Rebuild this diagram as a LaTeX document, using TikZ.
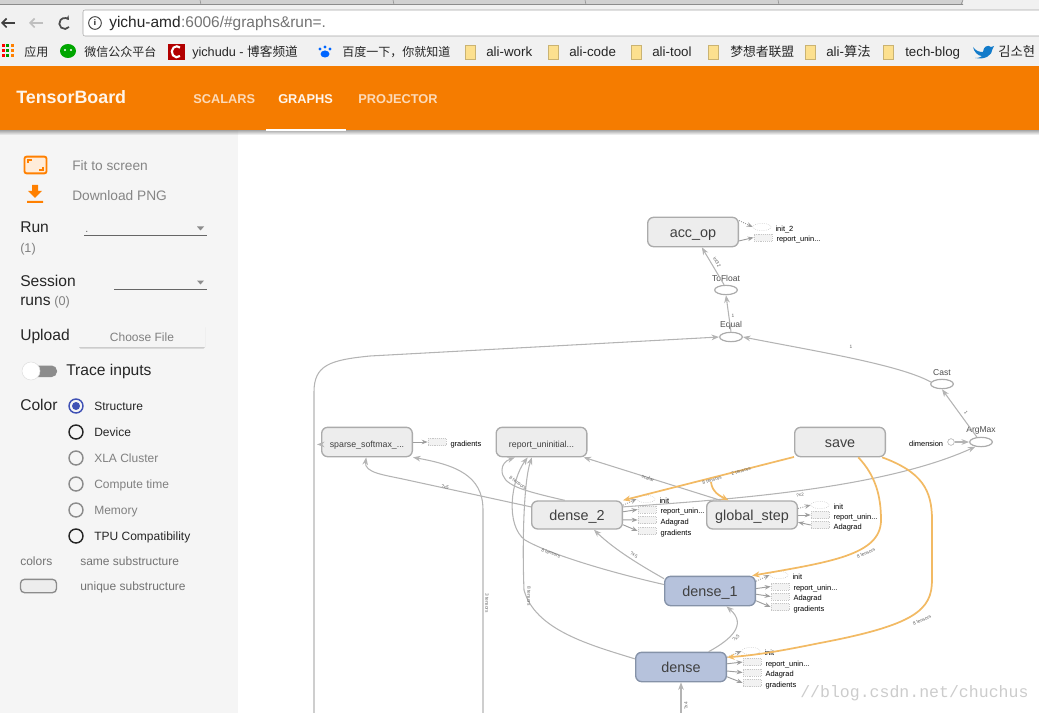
\documentclass[tikz,border=0pt]{standalone}
\usepackage{fontspec}
\setmainfont{Liberation Sans}
\newfontfamily\cjkfont{Noto Sans CJK SC}
\newfontfamily\krfont{Noto Sans CJK KR}
\newfontfamily\markfont{Liberation Mono}
\usetikzlibrary{positioning, arrows.meta, shapes.geometric, backgrounds}
\definecolor{tbOrange}{HTML}{F57C00}
\definecolor{panelGray}{HTML}{F5F5F5}
\definecolor{barGray}{HTML}{F1F1F1}
\definecolor{opFill}{HTML}{EDEDED}
\definecolor{opLine}{HTML}{ABABAB}
\definecolor{blueFill}{HTML}{B6C2DC}
\definecolor{blueLine}{HTML}{8592A8}
\definecolor{edgeGray}{HTML}{B4B4B4}
\definecolor{saveOrange}{HTML}{F2BA64}
\definecolor{folderYellow}{HTML}{FCE08F}
\definecolor{radioBlue}{HTML}{3F51B5}
\begin{document}
\begin{tikzpicture}[
    x=0.75pt, y=-0.75pt,
    txt/.style={inner sep=0pt, anchor=west, text height=1.6ex, text depth=0.45ex},
    barlabel/.style={txt, font=\fontsize{10}{11}\selectfont, text=black!85},
    cjklabel/.style={txt, font=\fontsize{9}{11}\selectfont\cjkfont, text=black!85},
    navlabel/.style={txt, font=\fontsize{9.6}{11}\selectfont\bfseries, text=white!72!tbOrange},
    sidelabel/.style={txt, font=\fontsize{11.7}{13}\selectfont, text=black!85},
    hintlabel/.style={txt, font=\fontsize{10.3}{13}\selectfont, text=black!48},
    radiolabel/.style={txt, font=\fontsize{9}{11}\selectfont, text=black!85},
    radiooff/.style={txt, font=\fontsize{9}{11}\selectfont, text=black!50},
    legendlabel/.style={txt, font=\fontsize{9}{11}\selectfont, text=black!55},
    radio/.style={circle, draw=black!85, line width=1.1pt, minimum size=10.5pt, inner sep=0pt},
    radiodim/.style={radio, draw=black!45},
    folder/.style={draw=folderYellow!80!black, fill=folderYellow, minimum width=7.5pt, minimum height=10.5pt, inner sep=0pt},
    opbox/.style={draw=opLine, fill=opFill, line width=1pt, rounded corners=4.5pt, minimum width=68pt, minimum height=22pt, inner sep=0pt, text=black!75, text height=1.5ex, text depth=0pt, font=\fontsize{10.8}{12}\selectfont},
    bluebox/.style={opbox, draw=blueLine, fill=blueFill},
    smallbox/.style={opbox, font=\fontsize{6.6}{8}\selectfont},
    opell/.style={ellipse, draw=opLine, fill=white, line width=0.9pt, minimum width=17pt, minimum height=7pt, inner sep=0pt},
    oplabel/.style={font=\fontsize{6.4}{8}\selectfont, text=black!70, inner sep=0pt, label distance=2pt},
    auxbox/.style={draw=black!22, densely dotted, fill=black!5, minimum width=13.5pt, minimum height=5.5pt, inner sep=0pt},
    auxell/.style={ellipse, draw=black!25, densely dotted, fill=white, minimum width=13.5pt, minimum height=5.5pt, inner sep=0pt},
    auxlabel/.style={font=\fontsize{5.6}{7}\selectfont, text=black, inner sep=0pt, label distance=3pt, text height=1.5ex, text depth=0.3ex},
    edgelabel/.style={font=\fontsize{3.6}{4}\selectfont, text=black!60, inner sep=0pt},
    edge/.style={draw=edgeGray, line width=0.8pt, -{Stealth[length=2mm, width=1.5mm]}},
    auxedge/.style={edge, draw=black!38, line width=0.7pt, -{Stealth[length=1.6mm, width=1.2mm]}},
    auxdash/.style={auxedge, densely dotted},
    saveedge/.style={draw=saveOrange, line width=1.3pt, -{Stealth[length=2mm, width=1.6mm]}}
]
\useasboundingbox (0,0) rectangle (1039,713);

% Browser window
\fill[barGray] (0,0) rectangle (1039,66);
\fill[black!18] (0,0) rectangle (963,4);
\draw[black!45] (0,4.5) -- (963,4.5) (200,0) -- (201,4.5) (393,0) -- (394,4.5) (585,0) -- (586,4.5) (778,0) -- (779,4.5) (963,0) -- (961,4.5);
\draw[black!35, fill=white, rounded corners=1.5pt] (83,10) rectangle (1045,36);
\draw[black!30] (0,66) -- (1039,66);

% Toolbar buttons
\draw[black!75, line width=1.2pt, -{Straight Barb[length=1.2mm, width=2.4mm]}] (15,23) -- (1,23);
\draw[black!25, line width=1.2pt, -{Straight Barb[length=1.2mm, width=2.4mm]}] (43,23) -- (29,23);
\draw[black!70, line width=1.3pt, -{Stealth[length=1.1mm, width=1.4mm]}] (69,27) arc (40:320:5.5);
\node (url_info) [circle, draw=black!75, line width=0.7pt, minimum size=9.5pt, inner sep=0pt, font=\fontsize{6}{7}\selectfont\bfseries] at (95,23) {i};
\node (url_host) [txt, font=\fontsize{11.6}{12}\selectfont, text=black!85] at (109,23) {yichu-amd};
\node (url_rest) [txt, right=0pt of url_host, font=\fontsize{11.6}{12}\selectfont, text=black!55] {:6006/\#graphs\&run=.};

% Bookmarks
\foreach \col/\gx in {red/3,green!60!black/7.5,orange/12} {
  \foreach \gy in {46,51,56}
    \fill[\col] (\gx-1.5,\gy-1.5) rectangle (\gx+1.5,\gy+1.5);
}
\node (bm_apps) [cjklabel] at (24,52) {应用};
\fill[green!65!black] (68,51) ellipse (8 and 7);
\fill[white] (65,50) circle (1.1) (71,50) circle (1.1);
\node (bm_wechat) [cjklabel] at (84,52) {微信公众平台};
\fill[red!70!black] (168,44) rectangle (185,60);
\draw[white, line width=1.6pt] (180,56) arc (50:310:5 and 5.5);
\node (bm_blog1) [barlabel, font=\fontsize{9.5}{11}\selectfont] at (192,52) {yichudu - \cjkfont 博客频道};
\fill[blue!60!cyan] (325,54) ellipse (4.5 and 3.5) (320,49) circle (1.6) (325,47) circle (1.7) (330,49) circle (1.6);
\node (bm_baidu) [cjklabel] at (342,52) {百度一下，你就知道};
\node (fd_work) [folder] at (470,52) {};
\node (bm_work) [barlabel] at (486,52) {ali-work};
\node (fd_code) [folder] at (553,52) {};
\node (bm_code) [barlabel] at (569,52) {ali-code};
\node (fd_tool) [folder] at (636,52) {};
\node (bm_tool) [barlabel] at (652,52) {ali-tool};
\node (fd_dream) [folder] at (713,52) {};
\node (bm_dream) [cjklabel, font=\fontsize{9.6}{11}\selectfont\cjkfont] at (730,52) {梦想者联盟};
\node (fd_algo) [folder] at (810,52) {};
\node (bm_algo) [barlabel] at (826,52) {ali-\cjkfont 算法};
\node (fd_tech) [folder] at (888,52) {};
\node (bm_tech) [barlabel] at (905,52) {tech-blog};
\fill[cyan!60!blue] (973,47) .. controls (976,51) and (979,52) .. (983,52) .. controls (983,47) and (988,44) .. (991,47) -- (994,46) -- (992.5,49) .. controls (992,55) and (986,60) .. (975,58) .. controls (979,58) and (981,57) .. (982,56) .. controls (978,56) and (974,52) .. cycle;
\node (bm_kim) [txt, font=\fontsize{10}{11}\selectfont\krfont, text=black!85] at (998,52) {김소현};

% Orange header
\shade[top color=black!35, bottom color=white] (0,130) rectangle (1039,135);
\fill[tbOrange] (0,66) rectangle (1039,130);
\node (tb_title) [txt, font=\fontsize{13.4}{16}\selectfont\bfseries, text=white!92!tbOrange] at (16,99) {TensorBoard};
\node (nav_scalars) [navlabel] at (193,99) {SCALARS};
\node (nav_graphs) [navlabel, text=white!92!tbOrange] at (278,99) {GRAPHS};
\node (nav_projector) [navlabel] at (358,99) {PROJECTOR};
\fill[white] (266,129) rectangle (346,131);

% Side panel
\fill[panelGray] (0,131) rectangle (238,713);
\shade[top color=black!30, bottom color=panelGray] (0,131) rectangle (238,135);
\node (fit_icon) [draw=orange, fill=white!85!orange, line width=1.4pt, rounded corners=1.5pt, minimum width=16.5pt, minimum height=12.5pt, inner sep=0pt] at (35.5,165) {};
\draw[orange, line width=0.9pt] (28,163) -- (28,160) -- (32,160) (43,167) -- (43,170) -- (39,170);
\node (fit_label) [hintlabel] at (72,166) {Fit to screen};
\fill[orange] (32,185) rectangle (38,191) (28,191) -- (42,191) -- (35,198) -- cycle (27,201) rectangle (43,203);
\node (png_label) [hintlabel] at (72,196) {Download PNG};
\node (run_label) [sidelabel] at (20,228) {Run};
\node (run_count) [txt, font=\fontsize{9.5}{11}\selectfont, text=black!50] at (20,248) {(1)};
\node (run_value) [txt, font=\fontsize{8}{9}\selectfont, text=black!60] at (85,228) {.};
\draw[black!60] (84,235.5) -- (207,235.5) (114,289.5) -- (207,289.5);
\fill[black!45] (197,226.5) -- (204,226.5) -- (200.5,230.5) -- cycle (197,280.5) -- (204,280.5) -- (200.5,284.5) -- cycle;
\node (session_label) [sidelabel] at (20,282) {Session};
\node (runs_label) [sidelabel] at (20,301) {runs};
\node (runs_count) [txt, right=2.5pt of runs_label, font=\fontsize{9.5}{11}\selectfont, text=black!50] {(0)};
\node (upload_label) [sidelabel] at (20,336) {Upload};
\fill[black!20, rounded corners=1pt] (79,326) rectangle (205,348.5);
\node (upload_btn) [fill=panelGray, minimum width=94.5pt, minimum height=18pt, inner sep=0pt, font=\fontsize{9}{11}\selectfont, text=black!50, text height=1.5ex, text depth=0.3ex] at (142,335) {};
\node (upload_text) [font=\fontsize{9}{11}\selectfont, text=black!50, inner sep=0pt] at (142,337) {Choose File};
\fill[black!45, rounded corners=4pt] (29,365.5) rectangle (57,377);
\node (trace_knob) [circle, fill=white, draw=black!12, minimum size=13.5pt, inner sep=0pt] at (31,371) {};
\node (trace_label) [sidelabel] at (66,371) {Trace inputs};
\node (color_label) [sidelabel] at (20,406) {Color};
\node (rd_structure) [radio, draw=radioBlue] at (76,406) {};
\fill[radioBlue] (rd_structure) circle (4);
\node (rl_structure) [radiolabel] at (94,406) {Structure};
\node (rd_device) [radio] at (76,432) {};
\node (rl_device) [radiolabel] at (94,432) {Device};
\node (rd_xla) [radiodim] at (76,458) {};
\node (rl_xla) [radiooff] at (94,458) {XLA Cluster};
\node (rd_time) [radiodim] at (76,484) {};
\node (rl_time) [radiooff] at (94,484) {Compute time};
\node (rd_memory) [radiodim] at (76,510) {};
\node (rl_memory) [radiooff] at (94,510) {Memory};
\node (rd_tpu) [radio] at (76,536) {};
\node (rl_tpu) [radiolabel] at (94,536) {TPU Compatibility};
\node (legend_colors) [legendlabel] at (20,561) {colors};
\node (legend_same) [legendlabel] at (80,561) {same substructure};
\node (legend_swatch) [draw=black!45, fill=black!7, line width=1pt, rounded corners=3pt, minimum width=27pt, minimum height=10pt, inner sep=0pt] at (38.5,586) {};
\node (legend_unique) [legendlabel] at (80,586) {unique substructure};

% Graph nodes
\node (acc_op) [opbox] at (693,232) {acc\_op};
\node (sparse) [smallbox] at (367,442) {sparse\_softmax\_...};
\node (report) [smallbox] at (541.5,442) {report\_uninitial...};
\node (save) [opbox] at (840,442) {save};
\node (dense_2) [opbox, minimum height=21pt] at (577,515) {dense\_2};
\node (global_step) [opbox, minimum height=21pt] at (752,515) {global\_step};
\node (dense_1) [bluebox] at (710,591) {dense\_1};
\node (dense) [bluebox] at (681,667) {dense};

\node (to_float) [opell, label={[oplabel]above:ToFloat}] at (726,290) {};
\node (equal) [opell, label={[oplabel]above:Equal}] at (731,337) {};
\node (cast) [opell, label={[oplabel]above:Cast}] at (942,384) {};
\node (arg_max) [opell, label={[oplabel]above:ArgMax}] at (981,442) {};
\node (dim_in) [circle, draw=opLine, fill=white, minimum size=5pt, inner sep=0pt, label={[auxlabel]left:dimension}] at (951,442) {};

% Auxiliary boxes
\node (acc_init) [auxell, label={[auxlabel]right:init\_2}] at (762,227) {};
\node (acc_rep) [auxbox, label={[auxlabel]right:report\_unin...}] at (763,237.5) {};
\node (sp_grad) [auxbox, label={[auxlabel]right:gradients}] at (437,442) {};
\node (d2_init) [auxell, label={[auxlabel]right:init}] at (646,499) {};
\node (d2_rep) [auxbox, label={[auxlabel]right:report\_unin...}] at (647,509.5) {};
\node (d2_ada) [auxbox, label={[auxlabel]right:Adagrad}] at (647,520) {};
\node (d2_grad) [auxbox, label={[auxlabel]right:gradients}] at (647,531) {};
\node (gs_init) [auxell, label={[auxlabel]right:init}] at (820,505) {};
\node (gs_rep) [auxbox, label={[auxlabel]right:report\_unin...}] at (820,515) {};
\node (gs_ada) [auxbox, label={[auxlabel]right:Adagrad}] at (820,525) {};
\node (d1_init) [auxell, label={[auxlabel]right:init}] at (779,575) {};
\node (d1_rep) [auxbox, label={[auxlabel]right:report\_unin...}] at (780,586.5) {};
\node (d1_ada) [auxbox, label={[auxlabel]right:Adagrad}] at (780,596.5) {};
\node (d1_grad) [auxbox, label={[auxlabel]right:gradients}] at (780,607) {};
\node (d0_init) [auxell, label={[auxlabel]right:init}] at (751,651) {};
\node (d0_rep) [auxbox, label={[auxlabel]right:report\_unin...}] at (752,662) {};
\node (d0_ada) [auxbox, label={[auxlabel]right:Adagrad}] at (752,672.5) {};
\node (d0_grad) [auxbox, label={[auxlabel]right:gradients}] at (752,683) {};

% Free ends at the lower edge
\coordinate (left_end) at (314,713);
\coordinate (sparse_end) at (483,713);
\coordinate (dense_end) at (681,713);

% Edges
\begin{scope}[on background layer]
\draw[edge] (dense_2.10) .. controls (720,500) and (880,490) .. (arg_max.220);
\end{scope}
\draw[edge] (to_float.110) -- (acc_op.-60);
\draw[edge] (equal.north) -- (to_float.south);
\draw[edge] (cast.170) .. controls (900,365) and (820,352) .. (equal.east);
\draw[edge] (arg_max.130) -- (cast.south);
\draw[edge] (dim_in.east) -- (arg_max.west);
\draw[edge] (left_end) -- (314,392) .. controls (314,365) and (330,360) .. (370,356) -- (equal.west);
\draw[edge] (dense_2.170) -- (405,479.5) .. controls (385,475) and (364,473) .. (sparse.-93);
\draw[edge] (sparse_end) -- (483,510) .. controls (483,475) and (455,465) .. (sparse.south east);
\draw[edge] (dense_2.130) .. controls (520,490) and (502,485) .. (502,470) .. controls (502,465) and (505,461) .. (report.-150);
\draw[edge] (dense_1.172) .. controls (600,570) and (545,552) .. (525,540) .. controls (505,525) and (511,480) .. (report.-132);
\draw[edge] (dense.170) .. controls (590,645) and (535,630) .. (524,590) .. controls (522,540) and (524,480) .. (report.-122);
\draw[edge] (dense_1.165) .. controls (640,565) and (615,550) .. (dense_2.-41);
\draw[edge] (global_step.155) -- (report.-20);
\draw[edge] (dense.29) .. controls (730,640) and (748,625) .. (dense_1.-43);
\draw[edge] (dense_end) -- (dense.south);
\draw[edge] (sparse.183) -- ++(-4,0);

\draw[auxdash] (acc_op.14) -- (acc_init.west);
\draw[auxedge] (acc_op.-11) -- (acc_rep.west);
\draw[auxedge] (sparse.east) -- (sp_grad.west);
\draw[auxdash] (dense_2.12) -- (d2_init.west);
\draw[auxedge] (dense_2.4) -- (d2_rep.west);
\draw[auxedge] (dense_2.-6) -- (d2_ada.west);
\draw[auxedge] (dense_2.-12) -- (d2_grad.west);
\draw[auxdash] (global_step.8) -- (gs_init.west);
\draw[auxedge] (global_step.east) -- (gs_rep.west);
\draw[auxedge] (gs_ada.west) -- (global_step.-9);
\draw[auxdash] (dense_1.12) -- (d1_init.west);
\draw[auxedge] (dense_1.3) -- (d1_rep.west);
\draw[auxedge] (dense_1.-4) -- (d1_ada.west);
\draw[auxedge] (dense_1.-12) -- (d1_grad.west);
\draw[auxdash] (dense.12) -- (d0_init.west);
\draw[auxedge] (dense.4) -- (d0_rep.west);
\draw[auxedge] (dense.-5) -- (d0_ada.west);
\draw[auxedge] (dense.-12) -- (d0_grad.west);

\draw[saveedge] (save.-162) -- (dense_2.north east);
\draw[saveedge] (711,482) .. controls (712,492) and (720,496) .. (global_step.148);
\draw[saveedge] (save.-40) .. controls (875,475) and (881,495) .. (881,520) .. controls (881,555) and (830,562) .. (dense_1.20);
\draw[saveedge] (save.-20) .. controls (922,472) and (932,490) .. (932,520) -- (932,580) .. controls (932,610) and (915,625) .. (820,643) .. controls (790,649) and (760,655) .. (dense.12);

% Edge labels
\node (lb_tofloat) [edgelabel, rotate=-60] at (717,262) {int32};
\node (lb_equal) [edgelabel] at (733,316) {1};
\node (lb_cast) [edgelabel] at (851,347) {1};
\node (lb_argmax) [edgelabel, rotate=-55] at (966,413) {1};
\node (lb_argmax2) [edgelabel, rotate=5] at (800,495) {?x2};
\node (lb_sparse) [edgelabel, rotate=-20] at (445,487) {?x5};
\node (lb_left) [edgelabel, rotate=-90] at (487,603) {3 tensors};
\node (lb_rep1) [edgelabel, rotate=-35] at (518,483) {8 tensors};
\node (lb_rep2) [edgelabel, rotate=-20] at (551,553) {8 tensors};
\node (lb_rep3) [edgelabel, rotate=-90] at (529,596) {8 tensors};
\node (lb_d1d2) [edgelabel, rotate=-25] at (634,555) {?x5};
\node (lb_global) [edgelabel, rotate=-20] at (648,478) {scalar};
\node (lb_dd1) [edgelabel, rotate=40] at (736,638) {?x5};
\node (lb_dense) [edgelabel, rotate=90] at (686,706) {?x4};
\node (lb_save1) [edgelabel, rotate=15] at (712,480) {8 tensors};
\node (lb_save2) [edgelabel, rotate=15] at (741,471) {2 tensors};
\node (lb_save3) [edgelabel, rotate=25] at (866,553) {8 tensors};
\node (lb_save4) [edgelabel, rotate=25] at (922,620) {8 tensors};

% Watermark
\node (watermark) [txt, font=\fontsize{12.4}{14}\selectfont\markfont, text=black!20] at (800,693) {//blog.csdn.net/chuchus};
\end{tikzpicture}
\end{document}
